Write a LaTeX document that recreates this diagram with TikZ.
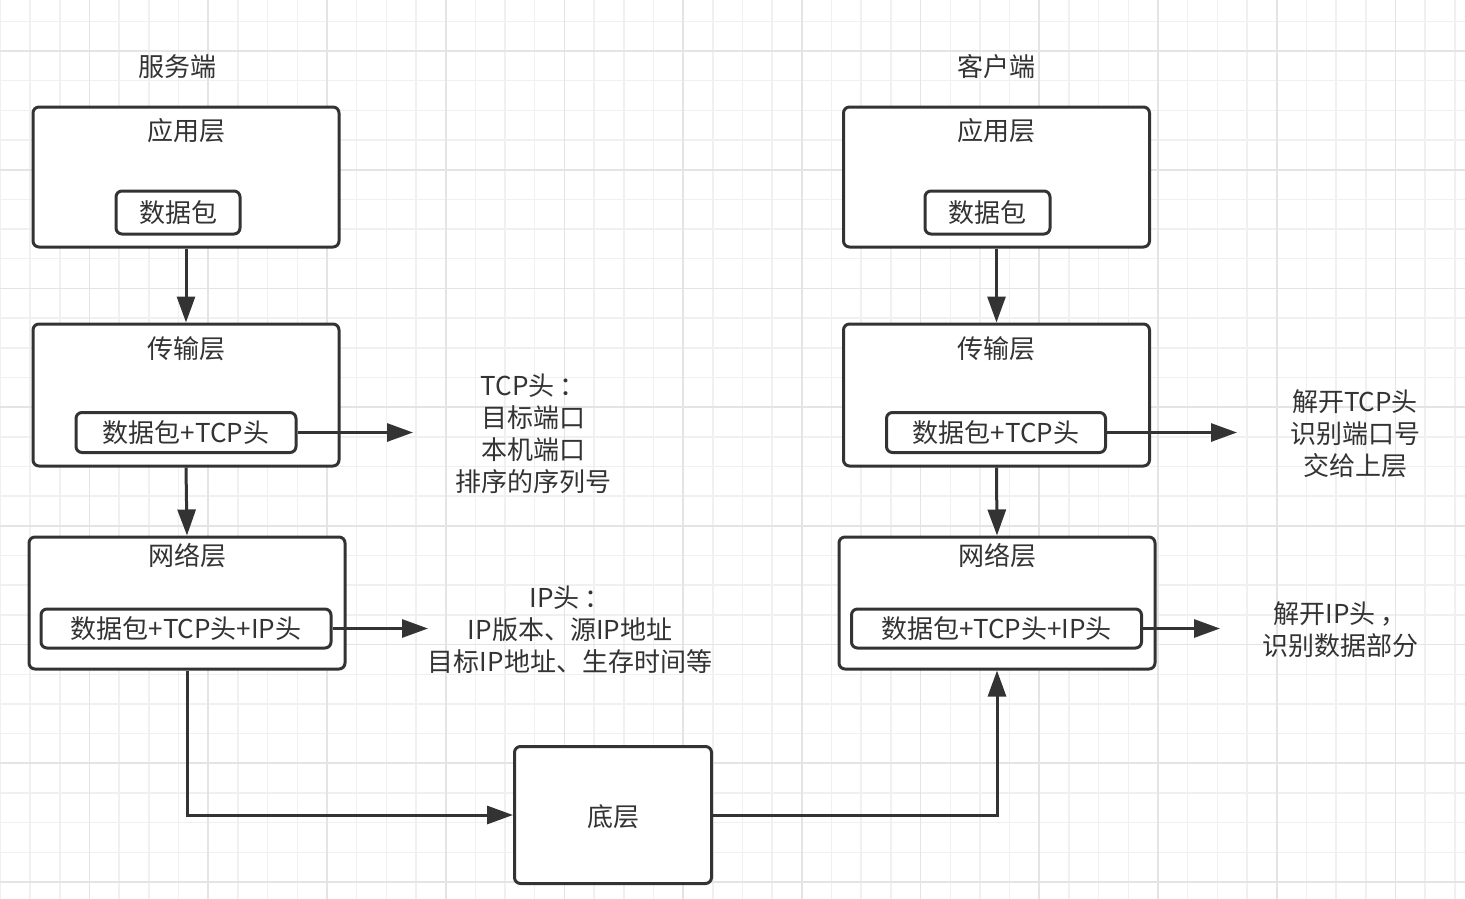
\documentclass[tikz,border=0pt]{standalone}
\usepackage{fontspec}
\setmainfont{Noto Sans CJK SC}
\usetikzlibrary{arrows.meta}
\definecolor{ink}{HTML}{333333}
\definecolor{gridminor}{HTML}{F0F0F0}
\definecolor{gridmajor}{HTML}{E4E4E4}
\tikzset{
  layerbox/.style={draw=ink, line width=3pt, rounded corners=6pt, fill=white, inner sep=0pt},
  pktbox/.style={draw=ink, line width=3pt, rounded corners=6pt, fill=white, inner sep=0pt, text=ink, font=\fontsize{26}{32}\selectfont},
  lbl/.style={text=ink, font=\fontsize{26}{32}\selectfont, align=center, inner sep=0pt},
  flow/.style={draw=ink, line width=3pt, -{Triangle[length=26pt,width=18pt]}},
}
\begin{document}
\begin{tikzpicture}[x=1pt,y=-1pt]
\useasboundingbox (0,0) rectangle (1465,899);
\fill[white] (0,0) rectangle (1465,899);
% grid
\foreach \k in {0,...,49} {
  \draw[gridminor, line width=1.5pt] ({0.5+\k*29.68},0) -- ({0.5+\k*29.68},899);
}
\foreach \k in {0,...,29} {
  \draw[gridminor, line width=1.5pt] (0,{21.3+\k*29.68}) -- (1465,{21.3+\k*29.68});
}
\foreach \k in {3,7,...,47} {
  \draw[gridmajor, line width=1.8pt] ({0.5+\k*29.68},0) -- ({0.5+\k*29.68},899);
}
\foreach \k in {1,5,...,29} {
  \draw[gridmajor, line width=1.8pt] (0,{21.3+\k*29.68}) -- (1465,{21.3+\k*29.68});
}

% server side
\node[lbl] (sTitle) at (177,67) {服务端};
\node[layerbox, minimum width=306pt, minimum height=140pt] (sApp) at (186,177) {};
\node[lbl] (sAppT) at (186,131) {应用层};
\node[pktbox, minimum width=124pt, minimum height=43pt] (sPkt1) at (178,212.5) {数据包};

\node[layerbox, minimum width=306pt, minimum height=142pt] (sTrans) at (186,395) {};
\node[lbl] (sTransT) at (186,349) {传输层};
\node[pktbox, minimum width=220pt, minimum height=40pt] (sPkt2) at (186,432.5) {数据包+TCP头};

\node[layerbox, minimum width=316pt, minimum height=132pt] (sNet) at (187,603) {};
\node[lbl] (sNetT) at (187,556) {网络层};
\node[pktbox, minimum width=290pt, minimum height=39pt] (sPkt3) at (186,628.5) {数据包+TCP头+IP头};

% base
\node[layerbox, minimum width=197pt, minimum height=137pt] (base) at (613,815) {};
\node[lbl] (baseT) at (613,817) {底层};

% client side
\node[lbl] (cTitle) at (996,67) {客户端};
\node[layerbox, minimum width=306pt, minimum height=140pt] (cApp) at (996.5,177) {};
\node[lbl] (cAppT) at (996.5,131) {应用层};
\node[pktbox, minimum width=125pt, minimum height=43pt] (cPkt1) at (987.5,212.5) {数据包};

\node[layerbox, minimum width=306pt, minimum height=142pt] (cTrans) at (996.5,395) {};
\node[lbl] (cTransT) at (996.5,349) {传输层};
\node[pktbox, minimum width=219pt, minimum height=40pt] (cPkt2) at (996,432.5) {数据包+TCP头};

\node[layerbox, minimum width=316pt, minimum height=132pt] (cNet) at (997,603) {};
\node[lbl] (cNetT) at (997,556) {网络层};
\node[pktbox, minimum width=290pt, minimum height=39pt] (cPkt3) at (996.5,628.5) {数据包+TCP头+IP头};

% annotations
\node[lbl] (tcpNote) at (533,434) {TCP头\,：\\目标端口\\本机端口\\排序的序列号};
\node[lbl] (ipNote) at (570,630) {IP头\,：\\IP版本、源IP地址\\目标IP地址、生存时间等};
\node[lbl] (cTcpNote) at (1355,434) {解开TCP头\\识别端口号\\交给上层};
\node[lbl] (cIpNote) at (1340,630) {解开IP头\,，\\识别数据部分};

\coordinate (sTcpEnd) at (413,432.5);
\coordinate (sIpEnd) at (428,628.5);
\coordinate (cTcpEnd) at (1237,432.5);
\coordinate (cIpEnd) at (1220,628.5);

% connectors
\draw[flow] (sApp.south) -- (sTrans.north);
\draw[flow] (sTrans.south) -- (sNet.north);
\draw[flow] (sNet.south) |- (base.west);
\draw[flow] (base.east) -| (cNet.south);
\draw[flow] (cApp.south) -- (cTrans.north);
\draw[flow] (cTrans.south) -- (cNet.north);
\draw[flow] (sPkt2.east) -- (sTcpEnd);
\draw[flow] (sPkt3.east) -- (sIpEnd);
\draw[flow] (cPkt2.east) -- (cTcpEnd);
\draw[flow] (cPkt3.east) -- (cIpEnd);
\end{tikzpicture}
\end{document}
